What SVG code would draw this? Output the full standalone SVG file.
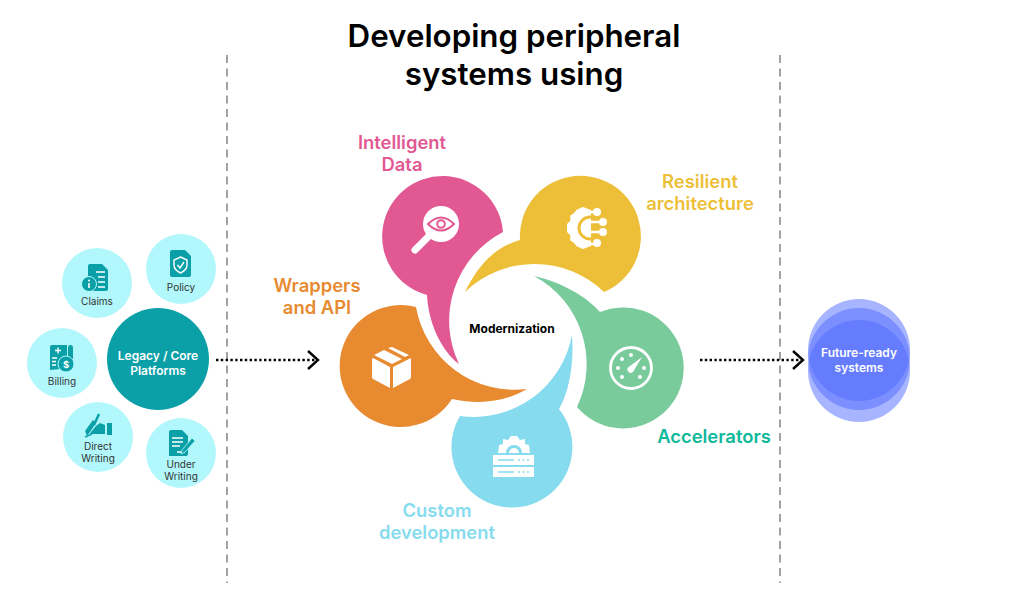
<svg xmlns="http://www.w3.org/2000/svg" width="1024" height="603" viewBox="0 0 1024 603">
<style>
text{font-family:Inter,"Liberation Sans",sans-serif;text-anchor:middle}
.title{font-size:31.3px;font-weight:600;fill:#000}
.lab{font-size:18.4px;font-weight:600}
.small{font-size:10px;font-weight:400;fill:#333}
.core{font-size:12px;font-weight:600;fill:#fff}
.sat{fill:#b1f7fb}
.teal{fill:#0ba0a8}
.tealw{fill:none;stroke:#fff;stroke-width:1.4}
.wht{fill:#fff}
.fut{fill:#4f6aff;fill-opacity:.5}
.guide{stroke:#666;stroke-width:1.2;stroke-dasharray:8 5.5;fill:none}
.dots{stroke:#000;stroke-width:2.4;stroke-dasharray:2.4 2.4;fill:none}
.chev{stroke:#000;stroke-width:2.4;fill:none}
</style>
<g id="title"><text class="title" x="514" y="47">Developing peripheral</text><text class="title" x="514" y="85">systems using</text></g>
<g id="guides"><path class="guide" d="M227,55V583"/><path class="guide" d="M780,55V583"/></g>
<g id="connectors">
<path class="dots" d="M216,360H316"/><path class="chev" d="M308,351L318,360L308,369"/>
<path class="dots" d="M700,360H801"/><path class="chev" d="M793,351L803,360L793,369"/>
</g>
<g id="legacy"><circle class="teal" cx="158" cy="359" r="51"/><text class="core" x="158" y="360">Legacy / Core</text><text class="core" x="158" y="374.500">Platforms</text></g>
<g id="claims"><circle class="sat" cx="97" cy="283" r="35"/>
<path class="teal" d="M88,266Q88,264 90,264H102L108,270V289Q108,291 106,291H88Z"/><path class="tealw" d="M96,272H105M98,277H105M98,282H105M98,287H105"/><circle class="teal" cx="89" cy="284" r="7.500" stroke="#b1f7fb"/><rect class="wht" x="88.200" y="283" width="1.600" height="5"/><circle class="wht" cx="89" cy="280.500" r="1"/>
<text class="small" x="97" y="305">Claims</text></g>
<g id="policy"><circle class="sat" cx="181" cy="269" r="35"/>
<path class="teal" d="M170,252Q170,250 172,250H185L191,256V275Q191,277 189,277H172Q170,277 170,275Z"/><path class="tealw" d="M180.500,257L187,260V265Q187,270 180.500,273Q174,270 174,265V260Z"/><path class="tealw" d="M177.500,265L180,268L184,262"/>
<text class="small" x="181" y="291">Policy</text></g>
<g id="billing"><circle class="sat" cx="62" cy="363" r="35"/>
<path class="teal" d="M50,347Q50,345 52,345H67V358L60,369L50,370Z"/><path class="teal" d="M68,348Q68,345 70.500,345Q73,345 73,348V360H68Z"/><path class="tealw" d="M58,347.500V353.500M55,350.500H61M52,358H57M52,361.500H56M52,365H56"/><circle class="teal" cx="66" cy="364" r="8" stroke="#b1f7fb"/><text x="66" y="367.500" font-size="9.500" font-weight="700" fill="#fff">$</text>
<text class="small" x="62" y="385">Billing</text></g>
<g id="direct"><circle class="sat" cx="98" cy="437" r="35"/>
<path class="teal" d="M85,431L93,420L96,423L90,432L87,436Z"/><path d="M94,425L99,414" stroke="#0ba0a8" stroke-width="2.500" fill="none"/><path class="teal" d="M91,432L96,426L100,423L105,425V434H90Z"/><rect class="teal" x="107" y="423" width="5" height="12"/><path d="M85,437L92,434" stroke="#0ba0a8" stroke-width="1.600" fill="none"/>
<text class="small" x="98" y="450">Direct</text><text class="small" x="98" y="461.500">Writing</text></g>
<g id="under"><circle class="sat" cx="181" cy="453" r="35"/>
<path class="teal" d="M169,432Q169,430 171,430H182L188,436V454Q188,456 186,456H169Z"/><path class="tealw" d="M172,438H183M172,442H183M172,446H180M177,452H185"/><path class="teal" stroke="#b1f7fb" stroke-width=".8" d="M182,450L192,438L195,441L185,452L181,454Z"/>
<text class="small" x="181" y="468">Under</text><text class="small" x="181" y="480">Writing</text></g>

<g id="intelligent-data"><path fill="#e15893" d="M503,232A60.500,60.500 0 1 0 427,295C428,320 440,350 459,364A100,100 0 0 1 503,232Z"/>
<circle class="wht" cx="441" cy="224" r="18"/><path d="M428,237L415,250" stroke="#fff" stroke-width="7" stroke-linecap="round"/>
<path d="M428,224Q441,211 454,224Q441,237 428,224Z" fill="none" stroke="#e15893" stroke-width="2"/><circle cx="441" cy="224" r="3.800" fill="none" stroke="#e15893" stroke-width="2"/>
<text class="lab" x="402" y="149" fill="#e15893">Intelligent</text><text class="lab" x="402" y="171" fill="#e15893">Data</text></g>

<g id="resilient"><path fill="#edbf38" d="M604,292A60.500,60.500 0 1 0 520,240C495,247 478,265 465,292A100,100 0 0 1 604,292Z"/>
<path class="wht" d="M591,210L583,207L577,209.500L574,213L570,216L570.500,220.500L567,224V232L570.500,235.500L570,240L574,243L577,246.500L583,249L591,246V240H591V216Z"/>
<path d="M591,212H597M591,244H597" stroke="#fff" stroke-width="2.400"/>
<path d="M600,217H590A11,11 0 0 0 590,239H600" fill="none" stroke="#edbf38" stroke-width="3"/>
<path d="M590,222H603M590,232H603" stroke="#fff" stroke-width="2.400"/>
<path d="M591,227H600" stroke="#edbf38" stroke-width="2.600"/>
<circle class="wht" cx="597" cy="212" r="4"/><circle class="wht" cx="603" cy="222" r="4"/><circle class="wht" cx="603" cy="232" r="4"/><circle class="wht" cx="597" cy="243" r="4"/>
<text class="lab" x="700" y="188" fill="#edbf38">Resilient</text><text class="lab" x="700" y="210" fill="#edbf38">architecture</text></g>

<g id="accelerators"><path fill="#7acb9b" d="M600,312A60.500,60.500 0 1 1 577,407A100,100 0 0 0 534,276C560,282 585,295 600,312Z"/>
<circle cx="631" cy="368" r="20.500" fill="none" stroke="#fff" stroke-width="2.800"/><path class="wht" d="M642,357L633,372A3.500,3.500 0 0 1 627.500,368Z"/>
<circle class="wht" cx="631" cy="355" r="2"/><circle class="wht" cx="622" cy="359" r="2"/><circle class="wht" cx="618" cy="368" r="2"/><circle class="wht" cx="644" cy="368" r="2"/><circle class="wht" cx="622" cy="377" r="2"/><circle class="wht" cx="640" cy="377" r="2"/>
<text class="lab" x="714" y="443" fill="#0db89b">Accelerators</text></g>

<g id="custom"><path fill="#86dbee" d="M559,409A60.500,60.500 0 1 1 460,416A100,100 0 0 0 572,335C574,362 570,390 559,409Z"/>
<path class="wht" d="M498,453L499,445L503,444L503,439L508,440L511,436H517L520,440L525,439L525,444L529,445L530,453H522A8,8 0 0 0 506,453Z"/>
<path class="wht" d="M509,453A5,5 0 0 1 519,453Z"/>
<rect class="wht" x="493" y="455" width="41" height="10"/><rect class="wht" x="493" y="467" width="41" height="10"/>
<path d="M498,460H514M498,472H514" stroke="#86dbee" stroke-width="1.600"/><path d="M518,460H530M518,472H530" stroke="#86dbee" stroke-width="1.600" stroke-dasharray="2 2.500"/>
<text class="lab" x="437" y="517" fill="#86dbee">Custom</text><text class="lab" x="437" y="539" fill="#86dbee">development</text></g>

<g id="wrappers"><path fill="#e78a30" d="M416,307A61,61 0 1 0 452,399C480,405 505,402 527,389A100,100 0 0 1 416,307Z"/>
<path class="wht" d="M373,358L390,367V388L373,379Q372,378 372,377V359Z"/><path class="wht" d="M411,358L393,367V388L410,379Q411,378 411,377Z"/>
<path class="wht" d="M374,355L384,350L402,359L392,364ZM388,348L392,347L409,355L405,357Z"/>
<text class="lab" x="317" y="292" fill="#e78a30">Wrappers</text><text class="lab" x="317" y="314" fill="#e78a30">and API</text></g>

<g id="modernization"><text x="512" y="333" font-size="12" font-weight="700" fill="#000">Modernization</text></g>

<g id="future"><circle class="fut" cx="859" cy="350" r="51"/><circle class="fut" cx="859" cy="371" r="51"/><circle class="fut" cx="859" cy="359" r="51"/>
<text class="core" x="859" y="357">Future-ready</text><text class="core" x="859" y="372">systems</text></g>
</svg>
